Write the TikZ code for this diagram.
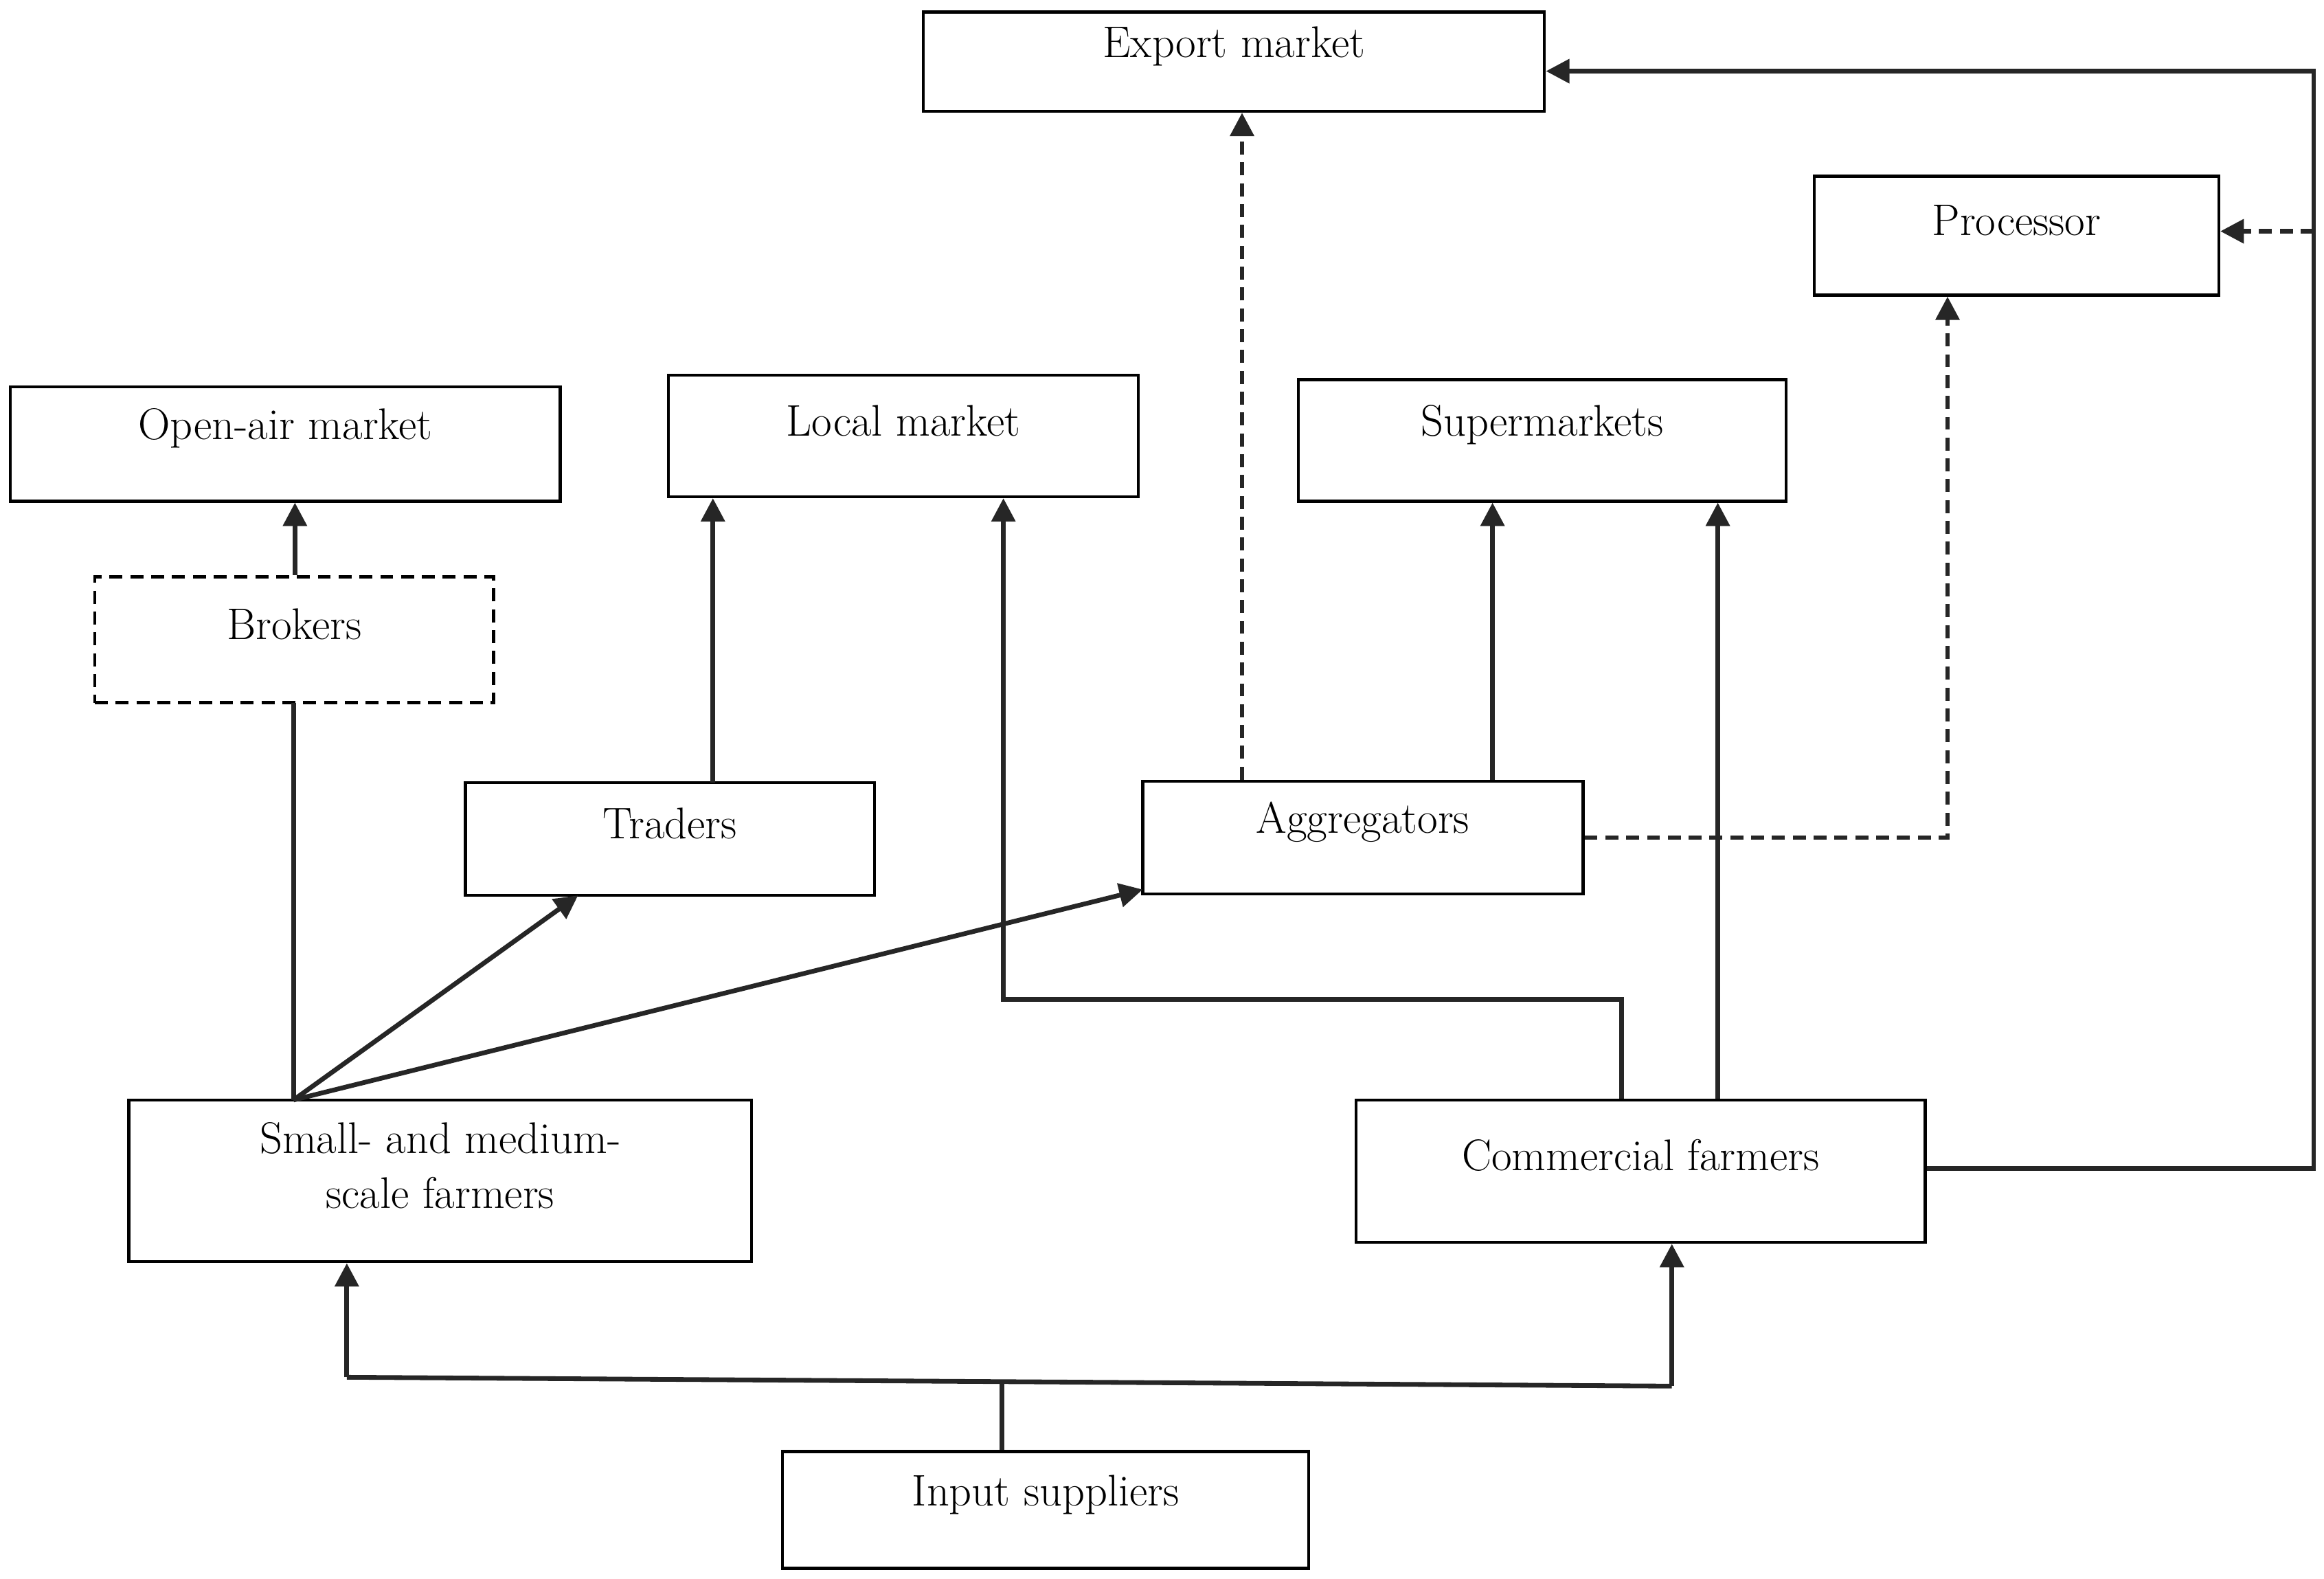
\documentclass[tikz,border=0pt]{standalone}
\usetikzlibrary{fit,arrows.meta}
\begin{document}
\begin{tikzpicture}[x=0.02cm,y=-0.02cm,
  box/.style={draw,line width=1.2pt,inner sep=0pt,align=center,font=\fontsize{17}{21}\selectfont},
  ln/.style={line width=1.8pt,draw=black!85},
  ar/.style={ln,-{Triangle[length=9pt,width=9pt]}},
  dsh/.style={dash pattern=on 5pt off 3pt}]
\useasboundingbox (0,0) rectangle (1568,1065);
\node[box,fit={(623,8)(1042,75)}] (ex) {Export market};
\node[box,fit={(1224,119)(1497,199)}] (pr) {Processor};
\node[box,fit={(7,261)(378,338)}] (oa) {Open-air market};
\node[box,fit={(451,253)(768,335)}] (lm) {Local market};
\node[box,fit={(876,256)(1205,338)}] (su) {Supermarkets};
\node[box,dsh,fit={(64,389)(333,474)}] (br) {Brokers};
\node[box,fit={(314,528)(590,604)}] (tr) {Traders};
\node[box,fit={(771,527)(1068,603)}] (ag) {Aggregators};
\node[box,fit={(87,742)(507,851)}] (sm) {Small- and medium-\\scale farmers};
\node[box,fit={(915,742)(1299,838)}] (cf) {Commercial farmers};
\node[box,fit={(528,979)(883,1058)}] (in) {Input suppliers};
\coordinate (s0) at (198,742);
\draw[ar] (br.north -| 199,0) -- (oa.south -| 199,0);
\draw[ln] (s0) -- (198,474);
\draw[ar] (s0) -- (390,604);
\draw[ar] (s0) -- (771,600);
\draw[ar] (481,528) -- (lm.south -| 481,0);
\coordinate (c1) at (1094,674); \coordinate (c2) at (677,674);
\draw[ar] (cf.north -| 1094,0) -- (c1) -- (c2) -- (lm.south -| 677,0);
\draw[ar] (cf.north -| 1159,0) -- (su.south -| 1159,0);
\draw[ar] (ag.north -| 1007,0) -- (su.south -| 1007,0);
\draw[ar,dsh] (ag.north -| 838,0) -- (ex.south -| 838,0);
\coordinate (p1) at (1314,565);
\draw[ar,dsh] (ag.east |- p1) -- (p1) -- (pr.south -| 1314,0);
\coordinate (r1) at (1561,788); \coordinate (r2) at (1561,48); \coordinate (r3) at (1561,156);
\draw[ar] (cf.east |- r1) -- (r1) -- (r2) -- (ex.east |- r2);
\draw[ar,dsh] (r3) -- (pr.east |- r3);
\coordinate (i1) at (676,932); \coordinate (i2) at (234,929); \coordinate (i3) at (1128,935);
\draw[ln] (in.north -| 676,0) -- (i1);
\draw[ln] (i2) -- (i3);
\draw[ar] (i2) -- (sm.south -| 234,0);
\draw[ar] (i3) -- (cf.south -| 1128,0);
\end{tikzpicture}
\end{document}
